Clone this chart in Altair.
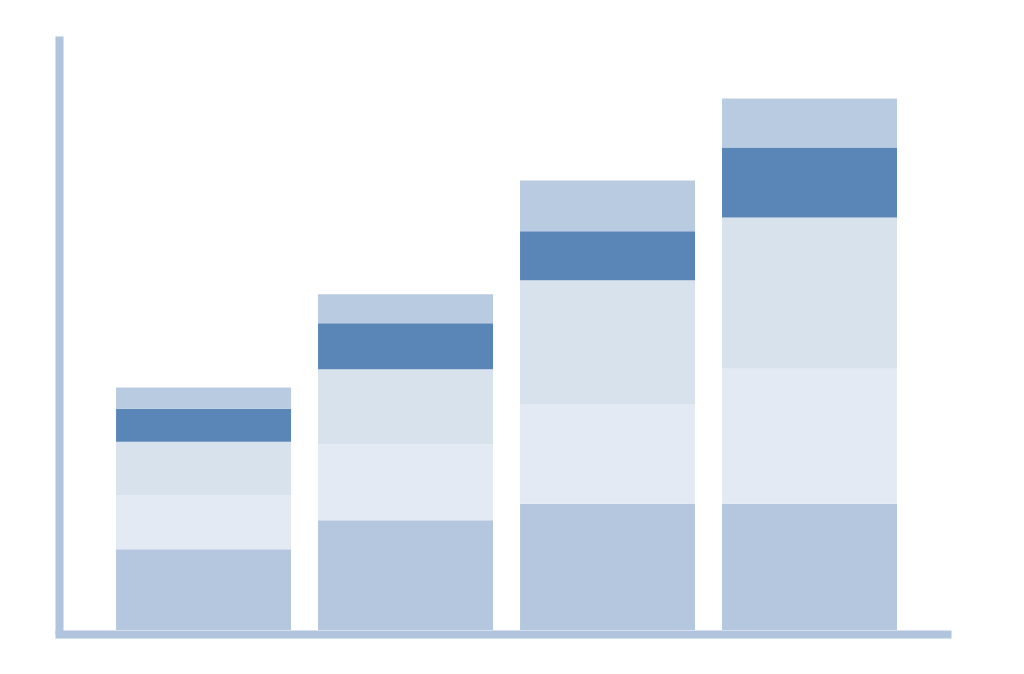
import altair as alt
import pandas as pd

categories = ["A", "B", "C", "D"]
series = ["S1", "S2", "S3", "S4", "S5"]
colors = ["#b5c7de", "#e3eaf3", "#d8e2ed", "#5a85b7", "#b9cbe1"]

s1 = [13.7, 18.6, 21.4, 21.4]
s2 = [9.2, 12.9, 16.9, 22.9]
s3 = [9.0, 12.7, 21.0, 25.6]
s4 = [5.6, 7.8, 8.3, 11.9]
s5 = [3.6, 4.9, 8.6, 8.3]

rows = []
for si, (name, vals) in enumerate(zip(series, [s1, s2, s3, s4, s5])):
    for c, v in zip(categories, vals):
        rows.append({"cat": c, "series": name, "order": si, "value": v})
df = pd.DataFrame(rows)

axis_common = dict(labels=False, ticks=False, grid=False, title=None,
                   domainColor="#b0c4de", domainWidth=8, domainCap="square")

chart = alt.Chart(df).mark_bar().encode(
    x=alt.X("cat:N", sort=categories,
            scale=alt.Scale(paddingInner=0.1337, paddingOuter=0.265, align=0.533),
            axis=alt.Axis(offset=4, **axis_common)),
    y=alt.Y("value:Q", stack="zero", scale=alt.Scale(domain=[0, 100], nice=False),
            axis=alt.Axis(offset=0, **axis_common)),
    color=alt.Color("series:N", sort=series,
                    scale=alt.Scale(domain=series, range=colors), legend=None),
    order=alt.Order("order:Q", sort="ascending"),
).properties(
    width=888, height=590,
    background="white",
    padding={"left": 51, "top": 32, "right": 20, "bottom": 20},
    autosize=alt.AutoSizeParams(type="none"),
).configure_view(strokeWidth=0, stroke="transparent")

chart.save("out.html", embed_options={"renderer": "svg", "actions": False})
